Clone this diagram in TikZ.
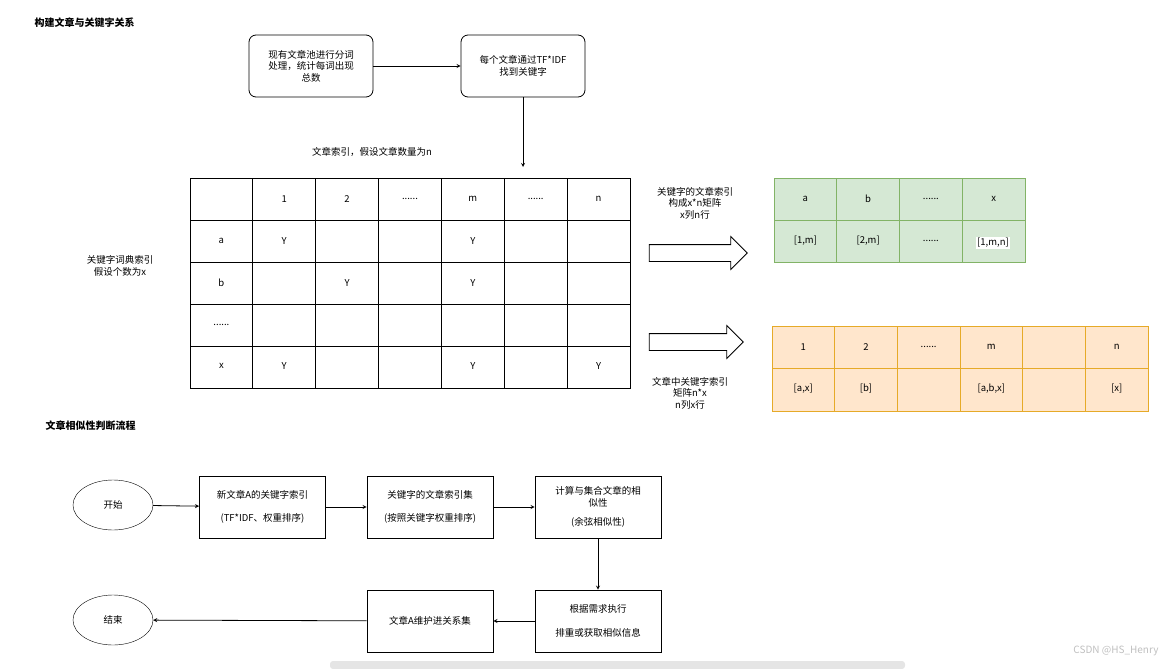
\documentclass[tikz,border=0pt]{standalone}
\usepackage{fontspec}
\setmainfont{Noto Sans CJK SC}
\usetikzlibrary{shapes.arrows,shapes.geometric}
\newcommand{\dd}{......}
\begin{document}
\begin{tikzpicture}[x=1pt,y=-1pt,font=\fontsize{9.5}{11.5}\selectfont,
  rbox/.style={draw,rounded corners=7pt,thick,minimum width=124pt,minimum height=62pt,align=center},
  sbox/.style={draw,thick,minimum width=126pt,minimum height=62pt,align=center},
  ell/.style={draw,ellipse,minimum width=80pt,minimum height=50pt},
  ar/.style={-stealth,thick},
  bigarrow/.style={draw,thick,single arrow,single arrow head extend=8pt,minimum height=98pt,inner xsep=0pt,inner ysep=8pt}]
\useasboundingbox (0,0) rectangle (1176,669);
\node[anchor=west,font=\fontsize{10}{12}\selectfont\bfseries] (t1) at (31,23) {构建文章与关键字关系};
\node[rbox] (b1) at (311,66) {现有文章池进行分词\\处理，统计每词出现\\总数};
\node[rbox] (b2) at (523,66) {每个文章通过TF*IDF\\找到关键字};
\draw[ar] (b1) -- (b2);
\coordinate (tt) at (523,167);
\draw[ar] (b2) -- (tt);
\node (l1) at (372,152) {文章索引，假设文章数量为n};
\node[align=center] (l2) at (120,266) {关键字词典索引\\假设个数为x};
% main table
\draw[thick] (190,178) rectangle (630,388);
\foreach \i in {1,...,6}{\draw[thick] (190+\i*62.86,178) -- (190+\i*62.86,388);}
\foreach \j in {1,...,4}{\draw[thick] (190,178+\j*42) -- (630,178+\j*42);}
\foreach \t [count=\c from 0] in {{},1,2,\dd,m,\dd,n}{\node at (221.4+\c*62.86,199) {\t};}
\foreach \t [count=\c from 0] in {a,Y,{},{},Y,{},{}}{\node at (221.4+\c*62.86,241) {\t};}
\foreach \t [count=\c from 0] in {b,{},Y,{},Y,{},{}}{\node at (221.4+\c*62.86,283) {\t};}
\node at (221.4,325) {\dd};
\foreach \t [count=\c from 0] in {x,Y,{},{},Y,{},Y}{\node at (221.4+\c*62.86,366) {\t};}
% green
\fill[fill={rgb,255:red,213;green,232;blue,212}] (774,178) rectangle (1025,262);
\draw[thick,draw={rgb,255:red,130;green,179;blue,102}] (774,178) rectangle (1025,262);
\foreach \i in {1,2,3}{\draw[thick,draw={rgb,255:red,130;green,179;blue,102}] (774+\i*62.75,178) -- (774+\i*62.75,262);}
\draw[thick,draw={rgb,255:red,130;green,179;blue,102}] (774,220) -- (1025,220);
\foreach \t [count=\c from 0] in {a,b,\dd,x}{\node at (805.4+\c*62.75,199) {\t};}
\foreach \t [count=\c from 0] in {{[1,m]},{[2,m]},\dd}{\node at (805.4+\c*62.75,241) {\t};}
\node[fill=white,inner sep=1pt] at (993,243) {[1,m,n]};
\node[align=center] (l3) at (695,203) {关键字的文章索引\\构成x*n矩阵\\x列n行};
\node[bigarrow] (a1) at (694,253) {};
% orange
\fill[fill={rgb,255:red,255;green,230;blue,204}] (772,326) rectangle (1148,411);
\draw[thick,draw={rgb,255:red,230;green,170;blue,40}] (772,326) rectangle (1148,411);
\foreach \i in {1,...,5}{\draw[thick,draw={rgb,255:red,230;green,170;blue,40}] (772+\i*62.67,326) -- (772+\i*62.67,411);}
\draw[thick,draw={rgb,255:red,230;green,170;blue,40}] (772,368) -- (1148,368);
\foreach \t [count=\c from 0] in {1,2,\dd,m,{},n}{\node at (803.3+\c*62.67,347) {\t};}
\foreach \t [count=\c from 0] in {{[a,x]},{[b]},{},{[a,b,x]},{},{[x]}}{\node at (803.3+\c*62.67,389) {\t};}
\node[bigarrow,minimum height=94pt] (a2) at (692,342) {};
\node[align=center] (l4) at (690,393) {文章中关键字索引\\矩阵n*x\\n列x行};
% bottom flow
\node[anchor=west,font=\fontsize{10}{12}\selectfont\bfseries] (t2) at (42,426) {文章相似性判断流程};
\node[ell] (s) at (113,505) {开始};
\node[sbox] (A) at (262.5,507) {新文章A的关键字索引\\[12pt](TF*IDF、权重排序)};
\node[sbox] (B) at (430,507) {关键字的文章索引集\\[12pt](按照关键字权重排序)};
\node[sbox] (C) at (598,507) {计算与集合文章的相\\似性\\[8pt](余弦相似性)};
\node[sbox] (D) at (598,621) {根据需求执行\\[12pt]排重或获取相似信息};
\node[sbox] (E) at (430,621) {文章A维护进关系集};
\node[ell] (e) at (113,620) {结束};
\draw[ar] (s) -- (A);
\draw[ar] (A) -- (B);
\draw[ar] (B) -- (C);
\draw[ar] (C) -- (D);
\draw[ar] (D) -- (E);
\draw[ar] (E) -- (e);
\fill[gray!20,rounded corners=3pt] (330,661) rectangle (905,669);
\node[anchor=east,text=gray!50,font=\fontsize{10}{12}\selectfont] (wm) at (1162,651) {CSDN @HS\_Henry};
\end{tikzpicture}
\end{document}
